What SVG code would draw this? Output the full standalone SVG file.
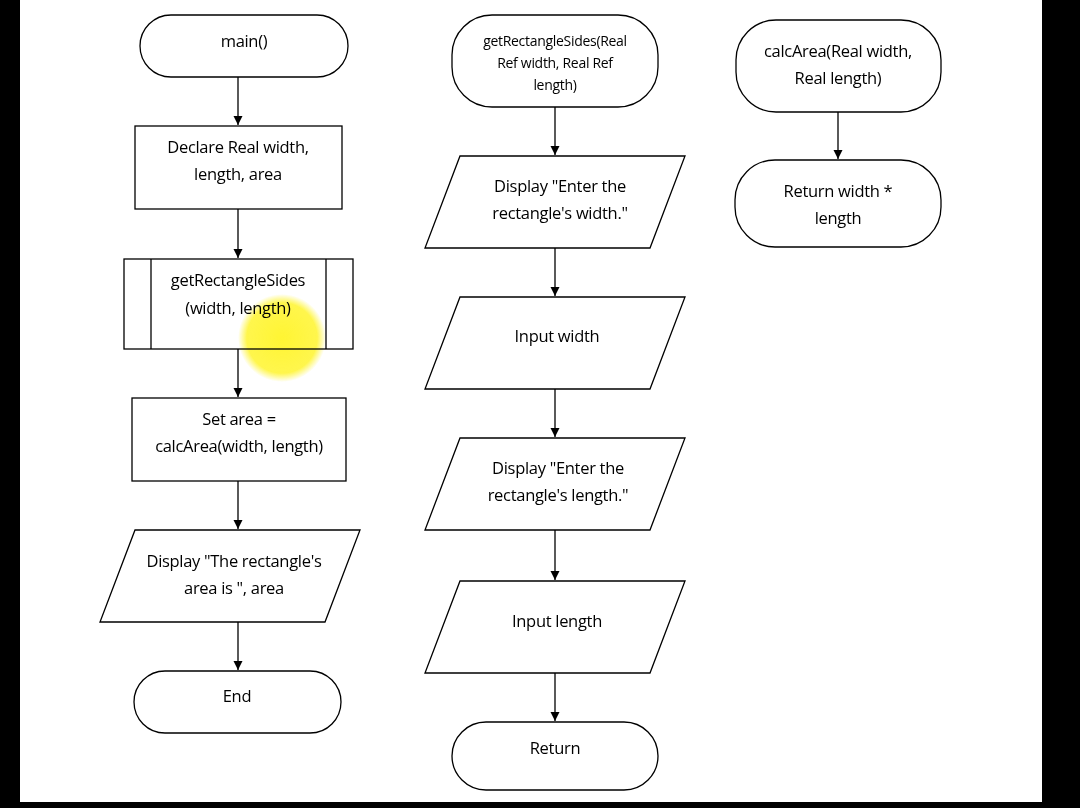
<svg xmlns="http://www.w3.org/2000/svg" width="1080" height="808" viewBox="0 0 1080 808">
<defs>
<marker id="ah" viewBox="0 0 10 10" refX="10" refY="5" markerWidth="7" markerHeight="7" orient="auto"><path d="M0,0 L10,5 L0,10 z" fill="#000"/></marker>
<radialGradient id="hl"><stop offset="0" stop-color="#fff200" stop-opacity="0.8"/><stop offset="0.8" stop-color="#fff200" stop-opacity="0.7"/><stop offset="1" stop-color="#fff200" stop-opacity="0"/></radialGradient>
</defs>
<style>
.s{fill:#fff;stroke:#000;stroke-width:1.3}
.t{font-family:"Open Sans","Liberation Sans",sans-serif;font-size:16.5px;fill:#000;text-anchor:middle;letter-spacing:-0.3px}
.sm{font-size:14px}
.c line{stroke:#000;stroke-width:1.3;marker-end:url(#ah)}
</style>
<rect width="1080" height="808" fill="#000"/>
<rect x="20" y="0" width="1022" height="802" fill="#fff"/>
<g id="main"><rect class="s" x="140" y="15" width="208" height="62" rx="31"/><text class="t" x="244" y="47">main()</text></g>
<g id="declare"><rect class="s" x="135" y="126" width="207" height="83"/><text class="t" x="238" y="153">Declare Real width,</text><text class="t" x="238" y="180">length, area</text></g>
<g id="getsides"><rect class="s" x="124" y="259" width="229" height="90"/><line x1="151" y1="259" x2="151" y2="349" stroke="#000" stroke-width="1.3"/><line x1="326" y1="259" x2="326" y2="349" stroke="#000" stroke-width="1.3"/><text class="t" x="238" y="286">getRectangleSides</text><text class="t" x="238" y="314">(width, length)</text></g>
<g id="setarea"><rect class="s" x="132" y="398" width="214" height="83"/><text class="t" x="239" y="425">Set area =</text><text class="t" x="239" y="452">calcArea(width, length)</text></g>
<g id="displayarea"><polygon class="s" points="135,530 360,530 325,622 100,622"/><text class="t" x="234" y="567">Display "The rectangle's</text><text class="t" x="234" y="594">area is ", area</text></g>
<g id="end"><rect class="s" x="134" y="671" width="207" height="62" rx="31"/><text class="t" x="237" y="702">End</text></g>
<g id="getdef"><rect class="s" x="452" y="15" width="206" height="92" rx="40"/><text class="t sm" x="555" y="46">getRectangleSides(Real</text><text class="t sm" x="555" y="68">Ref width, Real Ref</text><text class="t sm" x="555" y="90">length)</text></g>
<g id="dispw"><polygon class="s" points="460,156 685,156 650,248 425,248"/><text class="t" x="560" y="192">Display "Enter the</text><text class="t" x="560" y="219">rectangle's width."</text></g>
<g id="inw"><polygon class="s" points="460,297 685,297 650,389 425,389"/><text class="t" x="557" y="342">Input width</text></g>
<g id="displ"><polygon class="s" points="460,438 685,438 650,530 425,530"/><text class="t" x="558" y="474">Display "Enter the</text><text class="t" x="558" y="501">rectangle's length."</text></g>
<g id="inl"><polygon class="s" points="460,581 685,581 650,673 425,673"/><text class="t" x="557" y="627">Input length</text></g>
<g id="ret"><rect class="s" x="452" y="722" width="206" height="68" rx="34"/><text class="t" x="555" y="754">Return</text></g>
<g id="calcdef"><rect class="s" x="736" y="20" width="205" height="92" rx="40"/><text class="t" x="838" y="57">calcArea(Real width,</text><text class="t" x="838" y="84">Real length)</text></g>
<g id="retcalc"><rect class="s" x="735" y="160" width="206" height="87" rx="40"/><text class="t" x="838" y="197">Return width *</text><text class="t" x="838" y="224">length</text></g>
<g class="c">
<line x1="238" y1="77" x2="238" y2="125"/><line x1="238" y1="209" x2="238" y2="258"/><line x1="238" y1="349" x2="238" y2="397"/><line x1="238" y1="481" x2="238" y2="529"/><line x1="238" y1="622" x2="238" y2="670"/>
<line x1="555" y1="107" x2="555" y2="155"/><line x1="555" y1="248" x2="555" y2="296"/><line x1="555" y1="389" x2="555" y2="437"/><line x1="555" y1="530" x2="555" y2="580"/><line x1="555" y1="673" x2="555" y2="721"/>
<line x1="838" y1="112" x2="838" y2="159"/>
</g>
<circle cx="282" cy="338" r="44" fill="url(#hl)" style="mix-blend-mode:multiply"/>
</svg>
